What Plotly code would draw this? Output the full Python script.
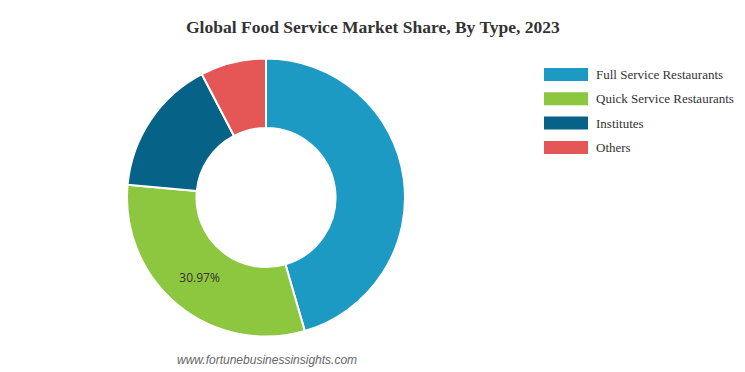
import plotly.graph_objects as go

categories = ["Full Service Restaurants", "Quick Service Restaurants", "Institutes", "Others"]
shares = [45.5, 30.97, 15.9, 7.63]
shown_labels = ["", "30.97%", "", ""]
colors = ["#1c9ac3", "#8dc63f", "#066287", "#e55656"]

W, H = 745, 372
fig = go.Figure()
fig.add_trace(go.Pie(
    labels=categories,
    values=shares,
    text=shown_labels,
    textinfo="text",
    textposition="inside",
    insidetextorientation="horizontal",
    textfont=dict(family="Open Sans, Arial, sans-serif", size=12, color="#333333"),
    marker=dict(colors=colors, line=dict(color="white", width=2)),
    hole=0.5,
    sort=False,
    direction="clockwise",
    rotation=0,
    showlegend=False,
    domain=dict(x=[127 / W, 405 / W], y=[35 / H, 314 / H]),
    hoverinfo="label+percent",
))

# custom legend (wide swatches like the reference)
shapes = []
annotations = []
y0 = 74.5
step = 24.3
for i, (cat, col) in enumerate(zip(categories, colors)):
    yc = y0 + i * step
    shapes.append(dict(type="rect", xref="paper", yref="paper",
                       x0=544 / W, x1=588 / W,
                       y0=1 - (yc + 6.5) / H, y1=1 - (yc - 6.5) / H,
                       fillcolor=col, line=dict(width=0)))
    annotations.append(dict(text=cat, xref="paper", yref="paper",
                            x=594 / W, y=1 - yc / H, xanchor="left", yanchor="middle",
                            showarrow=False,
                            font=dict(family="Liberation Serif, Times New Roman, serif", size=13, color="#333333")))

annotations.append(dict(text="<b>Global Food Service Market Share, By Type, 2023</b>",
                        xref="paper", yref="paper", x=373 / W, y=1 - 27 / H,
                        xanchor="center", yanchor="middle", showarrow=False,
                        font=dict(family="Liberation Serif, Times New Roman, serif", size=17.5, color="#333333")))
annotations.append(dict(text="<i>www.fortunebusinessinsights.com</i>",
                        xref="paper", yref="paper", x=267 / W, y=1 - 360 / H,
                        xanchor="center", yanchor="middle", showarrow=False,
                        font=dict(family="Liberation Sans, Arial, sans-serif", size=12, color="#666666")))

fig.update_layout(
    width=W, height=H,
    margin=dict(l=0, r=0, t=0, b=0),
    paper_bgcolor="white", plot_bgcolor="white",
    shapes=shapes, annotations=annotations,
)

fig.write_html("out.html", config={"displayModeBar": False},
               post_script="document.body.style.margin='0';")
